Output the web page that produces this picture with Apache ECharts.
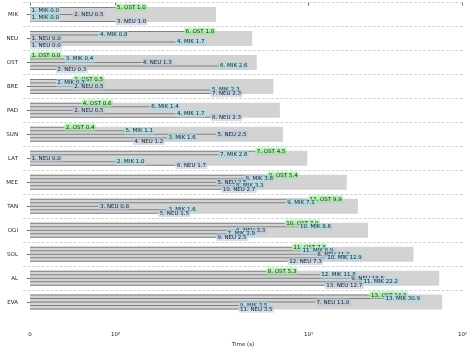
<!DOCTYPE html>
<html><head><meta charset="utf-8">
<script src="https://cdn.jsdelivr.net/npm/echarts@6/dist/echarts.min.js"></script>
<style>html,body{margin:0;padding:0;background:#fff}#c{width:474px;height:353px}</style>
</head><body><div id="c"></div>
<script>
const categories = ['MIK','NEU','OST','BRE','PAD','SUN','LAT','MEE','TAN','OGI','SOL','AL','EVA'];
const slotNames = ['OST','MIK','NEU','MIK','NEU'];
const slot1Values = [1.0,1.8,0.0,0.5,0.6,0.4,4.5,5.4,9.9,7.0,7.8,5.3,24.8];
const slot1Ranks  = [5,6,1,3,4,2,7,9,12,10,11,8,13];
const slot2Values = [0.0,0.8,0.4,0.3,1.4,1.1,2.6,3.8,7.1,8.6,8.9,11.8,30.9];
const slot2Ranks  = [1,4,3,2,6,5,7,8,9,10,11,12,13];
const slot3Values = [0.5,0.0,1.3,0.5,0.5,2.5,0.0,2.5,0.8,3.3,11.1,18.5,11.0];
const slot3Ranks  = [2,1,4,2,2,5,1,5,3,6,8,9,7];
const slot4Values = [0.0,1.7,2.6,2.3,1.7,1.6,1.0,3.3,1.6,2.9,12.9,22.2,3.5];
const slot4Ranks  = [1,4,6,5,4,3,2,8,3,7,10,11,9];
const slot5Values = [1.0,0.0,0.3,2.3,2.3,1.2,1.7,2.7,1.5,2.5,7.3,12.7,3.5];
const slot5Ranks  = [3,1,2,7,8,4,6,10,5,9,12,13,11];
const xTickValues = [0,1,10,100];
const xTickLabels = ['0','10⁰','10¹','10²'];
const xLimits = [-0.0825, 100.6];

const slotValues = [slot1Values,slot2Values,slot3Values,slot4Values,slot5Values];
const slotRanks = [slot1Ranks,slot2Ranks,slot3Ranks,slot4Ranks,slot5Ranks];
const totals = categories.map((c,i)=>slotValues.reduce((s,a)=>s+a[i],0));

// matplotlib-like symlog (linthresh=2, linscale=1, base 10)
const LTH = 2, LSA = 1/(1-1/10);
function symlog(v){
  const a = Math.abs(v), s = Math.sign(v);
  return a <= LTH ? v*LSA : s*LTH*(LSA + Math.log10(a/LTH));
}
const tickT = xTickValues.map(symlog);
const labelBg = {OST:'rgba(144,238,144,0.6)', MIK:'rgba(173,216,230,0.7)', NEU:'rgba(176,196,222,0.55)'};
const FONT = 'DejaVu Sans';

const lineSeries = slotValues.map((vals,k)=>({
  type:'bar', yAxisIndex:0, barWidth:1, barGap:'250%', z:3,
  itemStyle:{color:'#7f7f7f'},
  data: vals.map((v,i)=>({
    value: symlog(v),
    label:{
      show:true, position:'right', distance:0,
      formatter: slotRanks[k][i] + '. ' + slotNames[k] + ' ' + v.toFixed(1),
      fontSize:5.5, fontFamily:FONT, color:'#222',
      backgroundColor: labelBg[slotNames[k]], padding:[1,1.5,0.5,1.5], borderRadius:1.5
    }
  }))
}));

const chart = echarts.init(document.getElementById('c'), null, {renderer:'canvas'});
chart.setOption({
  animation:false,
  grid:{left:23, top:2.5, width:440, height:315.8, containLabel:false},
  xAxis:{
    type:'value', min:symlog(xLimits[0]), max:symlog(xLimits[1]), offset:9,
    axisLine:{show:false}, splitLine:{show:false},
    axisTick:{show:true, length:3, customValues:tickT, lineStyle:{color:'#444', width:0.8}},
    axisLabel:{customValues:tickT, fontSize:5.5, fontFamily:FONT, color:'#222', margin:8,
      formatter:(v)=>{let best=0;tickT.forEach((t,i)=>{if(Math.abs(t-v)<Math.abs(tickT[best]-v))best=i;});return xTickLabels[best];}},
    name:'Time (s)', nameLocation:'middle', nameGap:16,
    nameTextStyle:{fontSize:5.5, fontFamily:FONT, color:'#222'}
  },
  yAxis:[
    {type:'category', data:categories, inverse:true,
     axisLine:{show:false},
     axisTick:{show:true, alignWithLabel:true, length:3, lineStyle:{color:'#444', width:0.8}},
     axisLabel:{fontSize:5.5, fontFamily:FONT, color:'#222', margin:5},
     splitLine:{show:false}},
    {type:'category', data:categories, inverse:true, show:false},
    {type:'value', min:0, max:categories.length, inverse:true, show:false}
  ],
  series:[
    {type:'bar', yAxisIndex:1, barWidth:15, z:1, silent:true,
     itemStyle:{color:'#d3d3d3'}, data:totals.map(symlog)},
    ...lineSeries,
    {type:'line', yAxisIndex:2, data:[], silent:true,
     markLine:{silent:true, symbol:'none', label:{show:false},
       lineStyle:{type:[3,1.6], color:'#c8c8c8', width:0.8},
       data: categories.map((c,i)=>({yAxis:i}))}}
  ]
});
</script></body></html>
